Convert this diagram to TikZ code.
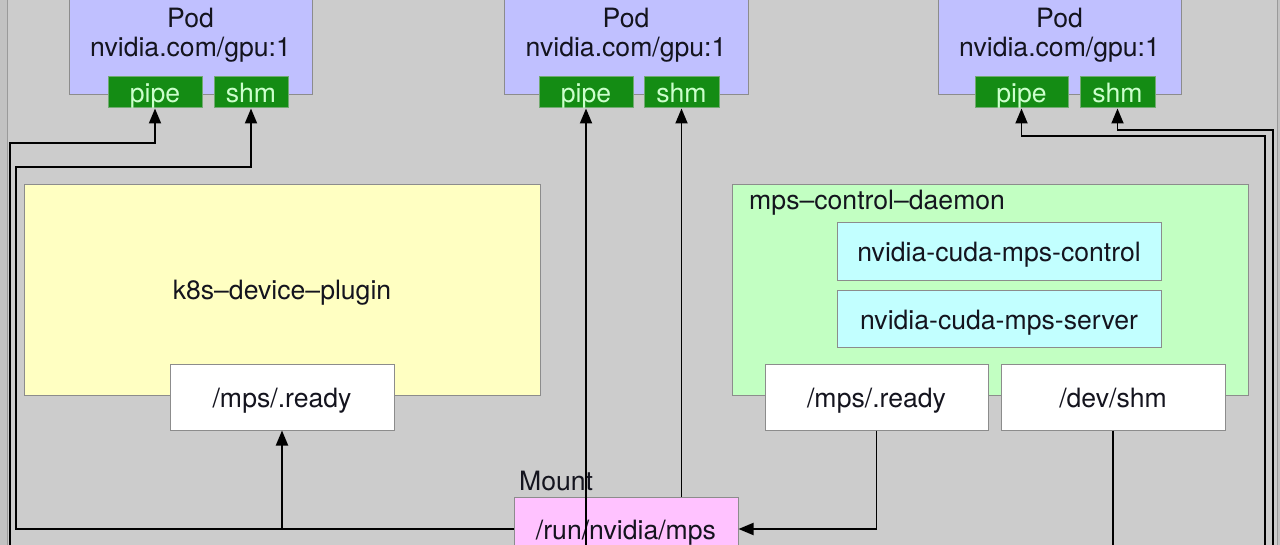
\documentclass[tikz,border=0pt]{standalone}
\usepackage{fontspec}
\setmainfont{TeX Gyre Heros}
\usetikzlibrary{arrows.meta}
\definecolor{bg}{HTML}{CCCCCC}
\definecolor{outer}{HTML}{C2C2C2}
\definecolor{frame}{HTML}{9A9A9A}
\definecolor{ink}{HTML}{14141E}
\definecolor{edge}{HTML}{8C8C8C}
\definecolor{podfill}{HTML}{C0C0FF}
\definecolor{portfill}{HTML}{148C14}
\definecolor{porttext}{HTML}{CCFFCC}
\definecolor{portedge}{HTML}{72AA72}
\definecolor{yel}{HTML}{FFFFC2}
\definecolor{grn}{HTML}{C2FFC2}
\definecolor{cyn}{HTML}{C2FFFF}
\definecolor{pnk}{HTML}{FFC2FF}
\begin{document}
\begin{tikzpicture}[x=1pt,y=-1pt,
  every node/.style={font=\fontsize{26.6}{29}\selectfont, text=ink, inner sep=0pt},
  oneline/.style={text height=20pt, text depth=0pt},
  box/.style={draw=edge, line width=1pt, oneline},
  podbox/.style={draw=edge, line width=1pt, fill=podfill, minimum width=243pt, minimum height=119pt, align=center},
  port/.style={draw=portedge, line width=1pt, fill=portfill, text=porttext, minimum height=31pt, oneline},
  conn/.style={draw=black, line width=1.9pt},
  arr/.style={conn, -{Triangle[length=15pt,width=12pt]}}]
\clip (0,0) rectangle (1280,545);
\fill[outer] (0,0) rectangle (1280,545);
\draw[fill=bg, draw=frame, line width=1pt] (7,-20) rectangle (1277,570);

% Pods
\node[podbox] (lpod) at (190.5,35.5) {Pod\\nvidia.com/gpu:1};
\node[podbox, minimum width=244pt] (mpod) at (626,35.5) {Pod\\nvidia.com/gpu:1};
\node[podbox] (rpod) at (1059.5,35.5) {Pod\\nvidia.com/gpu:1};

\node[port, minimum width=94pt] (lpipe) at (155,92.5) {pipe};
\node[port, minimum width=74pt] (lshm) at (251,92.5) {shm};
\node[port, minimum width=94pt] (mpipe) at (586,92.5) {pipe};
\node[port, minimum width=75pt] (mshm) at (681.5,92.5) {shm};
\node[port, minimum width=93pt] (rpipe) at (1021.5,92.5) {pipe};
\node[port, minimum width=75pt] (rshm) at (1117.5,92.5) {shm};

% k8s device plugin
\node[box, fill=yel, minimum width=516pt, minimum height=210pt] (plugin) at (282,290) {k8s–device–plugin};
\node[box, fill=white, minimum width=224pt, minimum height=66pt] (lready) at (282,397) {/mps/.ready};

% mps control daemon
\node[box, fill=grn, minimum width=516pt, minimum height=210pt] (daemon) at (990,290) {};
\node[anchor=base west] (daemonlbl) at (749,210) {mps–control–daemon};
\node[box, fill=cyn, minimum width=324pt, minimum height=58pt] (ctl) at (999,252) {nvidia-cuda-mps-control};
\node[box, fill=cyn, minimum width=324pt, minimum height=57pt] (srv) at (999,319.5) {nvidia-cuda-mps-server};
\node[box, fill=white, minimum width=223pt, minimum height=66pt] (rready) at (876.5,397) {/mps/.ready};
\node[box, fill=white, minimum width=224pt, minimum height=66pt] (devshm) at (1113,397) {/dev/shm};

% Mount
\node[box, fill=pnk, minimum width=224pt, minimum height=64pt] (mount) at (626,529) {/run/nvidia/mps};
\node[anchor=base west] (mountlbl) at (519,490) {Mount};

% connectors
\coordinate (bl1) at (10,560);
\coordinate (bm) at (586,560);
\coordinate (br1) at (1265,560);
\coordinate (br2) at (1273,560);

\draw[arr] (bl1) -- (10,143) -| (lpipe.south);
\draw[arr] (mount.west) -| (16,167) -| (lshm.south);
\draw[arr] (lready.south |- mount.west) -- (lready.south);
\draw[arr] (bm) -- (mpipe.south);
\draw[arr] (mount.north -| mshm.south) -- (mshm.south);
\draw[arr] (rready.south) |- (mount.east);
\draw[conn] (devshm.south) -- (devshm.south |- bm);
\draw[arr] (br1) -- (1265,136) -| (rpipe.south);
\draw[arr] (br2) -- (1273,130) -| (rshm.south);
\end{tikzpicture}
\end{document}
